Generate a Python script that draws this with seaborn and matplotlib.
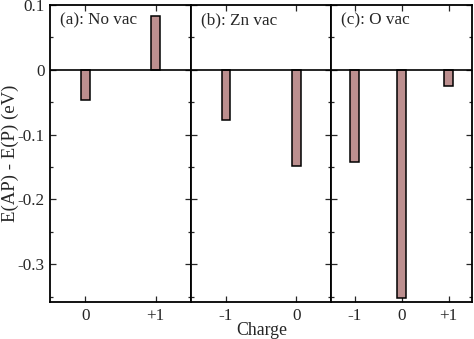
import matplotlib
matplotlib.use("Agg")
import matplotlib.pyplot as plt
from matplotlib.ticker import FixedLocator, MultipleLocator
import seaborn as sns
import pandas as pd

sns.set_style("ticks")
plt.rcParams["font.family"] = ["Liberation Serif", "DejaVu Serif"]

# Energy difference E(AP) - E(P) per charge state, for each vacancy type
panel_titles = ["(a): No vac", "(b): Zn vac", "(c): O vac"]
charges_a = [0, 1]
energy_a = [-0.047, 0.082]
charges_b = [-1, 0]
energy_b = [-0.077, -0.148]
charges_c = [-1, 0, 1]
energy_c = [-0.143, -0.352, -0.025]

charge_ticks = {-1: "-1", 0: "0", 1: "+1"}
y_ticks = [0.1, 0.0, -0.1, -0.2, -0.3]
y_tick_labels = ["0.1", "0", "-0.1", "-0.2", "-0.3"]

panels = [
    (charges_a, energy_a, (-0.5, 1.5), 0.12),
    (charges_b, energy_b, (-1.5, 0.5), 0.12),
    (charges_c, energy_c, (-1.5, 1.5), 0.19),
]

fig, axes = plt.subplots(1, 3, figsize=(4.74, 3.39), dpi=100, sharey=True)
fig.subplots_adjust(left=0.106, right=0.996, top=0.986, bottom=0.109, wspace=0)

for ax, title, (charges, energy, xlim, bw) in zip(axes, panel_titles, panels):
    df = pd.DataFrame({"charge": charges, "energy": energy})
    sns.barplot(data=df, x="charge", y="energy", ax=ax, native_scale=True,
                orient="x", width=bw, color="rosybrown", saturation=1,
                edgecolor="black", linewidth=1.1, errorbar=None)
    ax.axhline(0, color="black", lw=1.2, zorder=3)
    ax.set_xlim(*xlim)
    ax.set_ylim(-0.358, 0.1)
    ax.xaxis.set_major_locator(FixedLocator(charges))
    ax.set_xticklabels([charge_ticks[c] for c in charges])
    ax.yaxis.set_major_locator(FixedLocator(y_ticks))
    ax.yaxis.set_minor_locator(MultipleLocator(0.05))
    ax.tick_params(axis="both", which="major", direction="in", length=4,
                   width=0.9, top=True, right=True, labelsize=12.3, pad=4)
    ax.tick_params(axis="y", which="minor", direction="in", length=2.5,
                   width=0.9, right=True)
    for s in ax.spines.values():
        s.set_linewidth(1.3)
        s.set_color("black")
    ax.set_xlabel("")
    ax.set_ylabel("")
    ax.text(0.07, 0.975, title, transform=ax.transAxes, ha="left", va="top",
            fontsize=12.3)

axes[0].set_yticklabels(y_tick_labels)
fig.text(0.022, 0.547, "E(AP) - E(P) (eV)", rotation=90, ha="center",
         va="center", fontsize=13.5)
fig.text(0.553, 0.0, "Charge", ha="center", va="bottom", fontsize=12.8)

fig.savefig("out.png", dpi=100)
